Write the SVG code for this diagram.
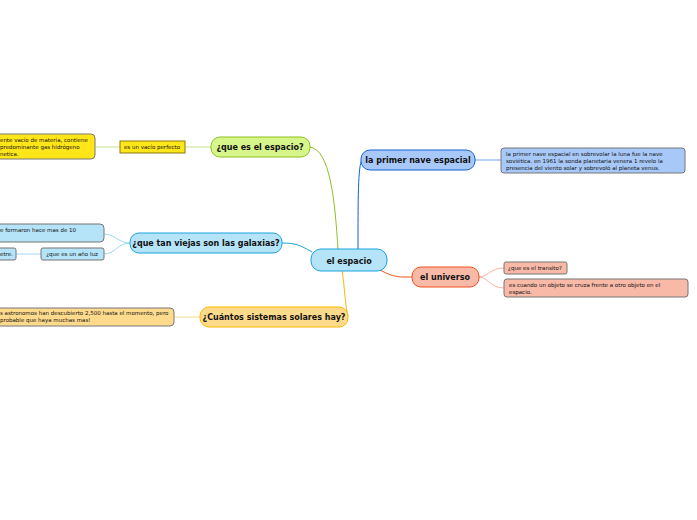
<svg xmlns="http://www.w3.org/2000/svg" width="697" height="520" viewBox="0 0 697 520">
<style>
text{font-family:Verdana,"DejaVu Sans",sans-serif;fill:#111}
.m{font-size:8px;font-weight:bold}
.s{font-size:5.5px}
.c{fill:none;stroke-width:1}
</style>
<rect width="697" height="520" fill="#fff"/>
<g id="connectors">
<path class="c" d="M338 250 C335 200 330 150 310 147" stroke="#8fc11d" stroke-width="1.2"/>
<path class="c" d="M312 252 C300 245 295 243 282 243" stroke="#1aa3e0" stroke-width="1.2"/>
<path class="c" d="M342 270 C345 290 345 305 348 316" stroke="#f9b800" stroke-width="1.2"/>
<path class="c" d="M358 250 C358 200 358 165 362 160" stroke="#1560d0" stroke-width="1.2"/>
<path class="c" d="M380 270 C395 278 400 277 412 277" stroke="#f0501e" stroke-width="1.2"/>
<path class="c" d="M475 160 H501" stroke="#6fa0e8"/>
<path class="c" d="M479 277 C488 277 490 268 504 268 M479 277 C488 277 490 288 504 288" stroke="#f8b3a0"/>
<path class="c" d="M211 147 H185 M120 147 H96" stroke="#c6e38a"/>
<path class="c" d="M130 243 C118 243 115 234 104 234 M130 243 C118 243 115 254 104 254 M41 254 H16" stroke="#9fd8f0"/>
<path class="c" d="M200 317 H174" stroke="#fbd98a"/>
</g>
<g id="center"><rect x="311" y="249" width="76" height="22" rx="10" fill="#b5e3f8" stroke="#1aa3e0"/><text class="m" x="349" y="264" text-anchor="middle" font-size="9">el espacio</text></g>
<g id="n1"><rect x="211" y="137" width="99" height="20" rx="9" fill="#d6f58a" stroke="#8fc11d"/><text class="m" x="260" y="150" text-anchor="middle">¿que es el espacio?</text></g>
<g id="n1a"><rect x="120" y="141" width="65" height="12" fill="#ffe619" stroke="#8a7a10"/><text class="s" x="152" y="149" text-anchor="middle">es un vacío perfecto</text></g>
<g id="n1b"><rect x="-10" y="134" width="105" height="25" rx="4" fill="#ffe619" stroke="#777"/><text class="s" x="0" y="142">ente vacío de materia, contiene</text><text class="s" x="0" y="149">predominante gas hidrógeno</text><text class="s" x="0" y="156">netica.</text></g>
<g id="n2"><rect x="130" y="233" width="152" height="20" rx="9" fill="#b5e3f8" stroke="#1aa3e0"/><text class="m" x="206" y="246" text-anchor="middle">¿que tan viejas son las galaxias?</text></g>
<g id="n2a"><rect x="-10" y="224" width="114" height="18" rx="4" fill="#b5e3f8" stroke="#777"/><text class="s" x="0" y="232">e formaron hace mas de 10</text></g>
<g id="n2b"><rect x="41" y="248" width="63" height="12" rx="2" fill="#b5e3f8" stroke="#777"/><text class="s" x="72" y="256" text-anchor="middle">¿que es un año luz</text></g>
<g id="n2c"><rect x="-10" y="248" width="26" height="12" rx="2" fill="#b5e3f8" stroke="#777"/><text class="s" x="0" y="256">etre.</text></g>
<g id="n3"><rect x="200" y="307" width="148" height="20" rx="9" fill="#fedb8c" stroke="#f9b800"/><text class="m" x="274" y="320" text-anchor="middle">¿Cuántos sistemas solares hay?</text></g>
<g id="n3a"><rect x="-10" y="308" width="184" height="18" rx="4" fill="#fedb8c" stroke="#777"/><text class="s" x="0" y="315">s astronomos han descubierto 2,500 hasta el momento, pero</text><text class="s" x="0" y="322">probable que haya muchas mas!</text></g>
<g id="n4"><rect x="361" y="150" width="114" height="20" rx="9" fill="#a8c8f8" stroke="#1560d0"/><text class="m" x="418" y="163" text-anchor="middle">la primer nave espacial</text></g>
<g id="n4a"><rect x="501" y="148" width="184" height="25" rx="3" fill="#a8c8f8" stroke="#777"/><text class="s" x="506" y="156">la primer nave espacial en sobrevolar la luna fue la nave</text><text class="s" x="506" y="163">soviética. en 1961 la sonda planetaria venera 1 revelo la</text><text class="s" x="506" y="170">presencia del viento solar y sobrevoló al planeta venus.</text></g>
<g id="n5"><rect x="412" y="267" width="67" height="20" rx="9" fill="#f8b9a6" stroke="#f0501e"/><text class="m" x="445" y="280" text-anchor="middle">el universo</text></g>
<g id="n5a"><rect x="504" y="262" width="63" height="12" rx="2" fill="#f8b9a6" stroke="#777"/><text class="s" x="508" y="270">¿que es el transito?</text></g>
<g id="n5b"><rect x="504" y="279" width="184" height="18" rx="3" fill="#f8b9a6" stroke="#777"/><text class="s" x="509" y="287">es cuando un objeto se cruza frente a otro objeto en el</text><text class="s" x="509" y="294">espacio.</text></g>
</svg>
